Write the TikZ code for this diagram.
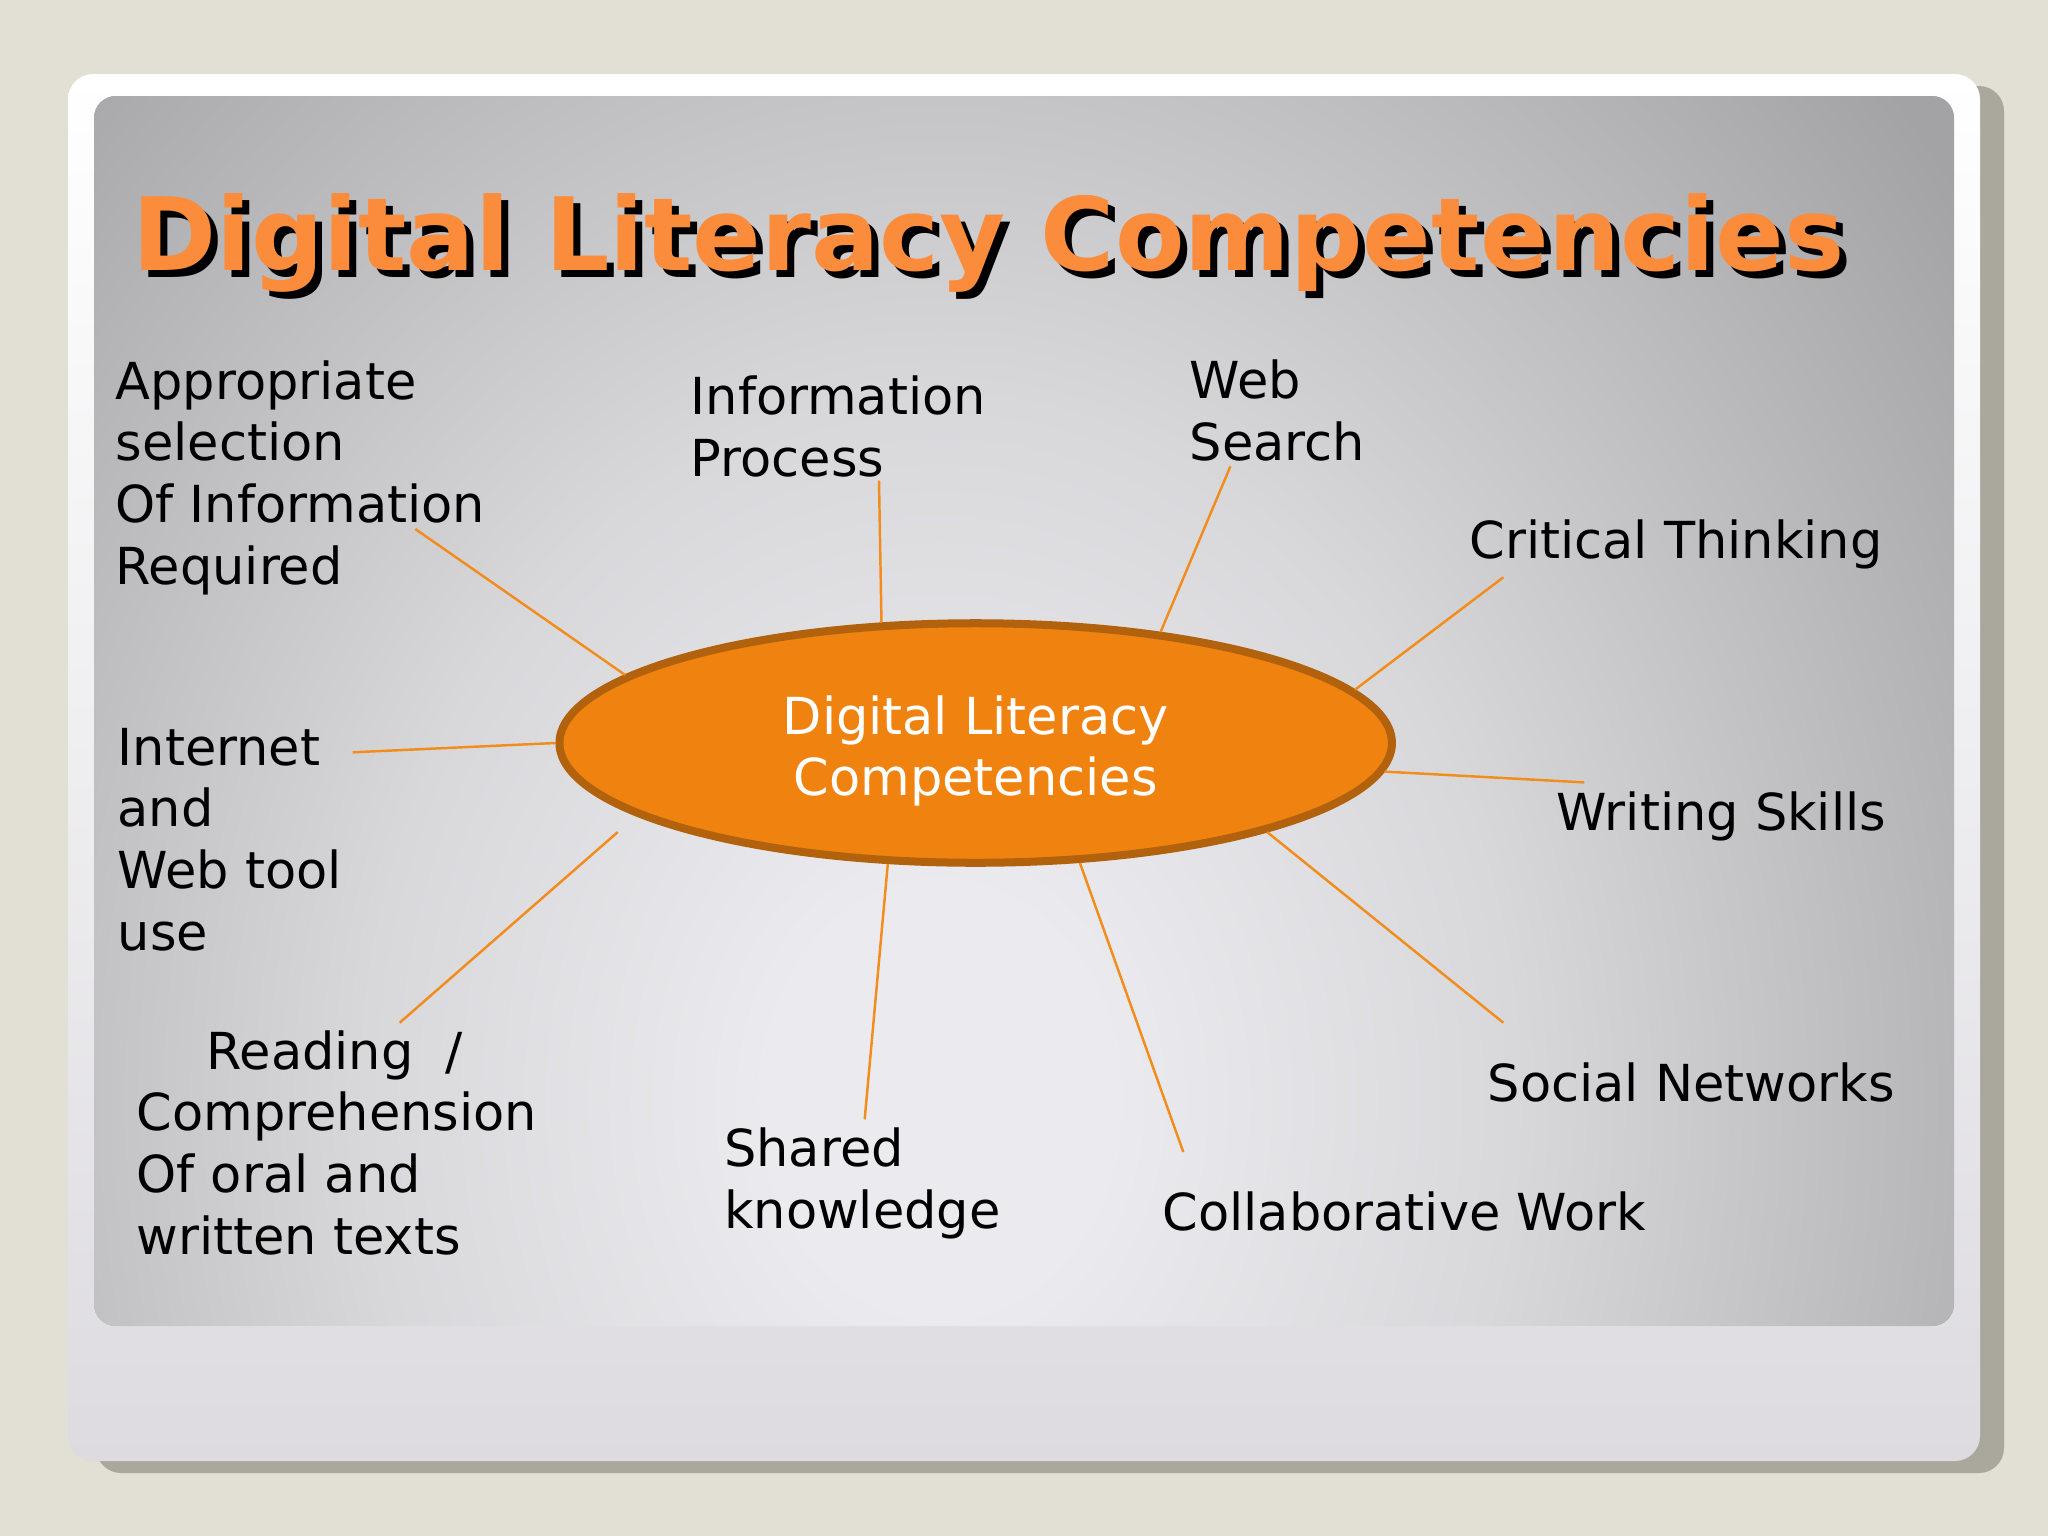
\documentclass[tikz,border=0pt]{standalone}
\usepackage{fontspec}
\setmainfont{DejaVu Sans}
\usetikzlibrary{shapes.geometric}
\definecolor{pagebg}{RGB}{226,223,212}
\definecolor{cardshadow}{RGB}{170,168,156}
\definecolor{cardbottom}{RGB}{221,219,224}
\definecolor{panelin}{RGB}{235,234,238}
\definecolor{panelmid}{RGB}{216,216,219}
\definecolor{panelmid2}{RGB}{185,185,188}
\definecolor{panelout}{RGB}{163,163,166}
\definecolor{titleorange}{RGB}{250,140,60}
\definecolor{corefill}{RGB}{240,130,15}
\definecolor{coreborder}{RGB}{178,98,12}
\definecolor{spoke}{RGB}{242,140,28}
\pgfdeclareradialshading{panelshade}{\pgfpoint{0bp}{0bp}}{color(0bp)=(panelin); color(2.5bp)=(panelin); color(8.33bp)=(panelmid); color(14.17bp)=(panelmid2); color(18.33bp)=(panelout); color(50bp)=(panelout)}
\begin{document}
\begin{tikzpicture}[x=0.01cm,y=-0.01cm,
  itemtext/.style={font=\fontsize{14.5pt}{17.5pt}\selectfont, text=black, align=left, inner sep=0pt, anchor=base west},
  titletext/.style={font=\fontsize{28.8pt}{34pt}\selectfont\bfseries, inner sep=0pt, anchor=base west, text=titleorange},
  spokeline/.style={draw=spoke, line width=0.7pt},
]
\useasboundingbox (0,0) rectangle (2048,1536);
\fill[pagebg] (0,0) rectangle (2048,1536);
\fill[cardshadow, rounded corners=0.25cm] (96,86) rectangle (2004,1473);
\shade[top color=white, bottom color=cardbottom, rounded corners=0.25cm] (68,74) rectangle (1980,1461);
\begin{scope}
  \clip[rounded corners=0.22cm] (94,96) rectangle (1954,1326);
  \fill[panelout] (94,96) rectangle (1954,1326);
  \shade[shading=panelshade] (940,1100) ellipse [x radius=1725, y radius=2100];
\end{scope}

% title with drop shadow
\newcommand{\titlewords}{Digital Literacy Competencies}
\node[titletext] (title) at (131.5,270)
  {\makebox[0pt][l]{\hspace*{1.99pt}\raisebox{-1.99pt}{\textcolor{black}{\titlewords}}}\titlewords};

% central ellipse
\node[ellipse, draw=coreborder, fill=corefill, line width=0.08cm,
      minimum width=8.32cm, minimum height=2.394cm, inner sep=0pt]
      (core) at (975.7,743) {};
\node[text=white, align=center, inner sep=0pt, font=\fontsize{14.5pt}{17.5pt}\selectfont]
      (coretext) at (975.7,751) {Digital Literacy\\Competencies};

% labels
\node[itemtext] (appr) at (115,584) {Appropriate\\selection\\Of Information\\Required};
\node[itemtext] (info) at (690,476) {Information\\Process};
\node[itemtext] (web) at (1189,460) {Web\\Search};
\node[itemtext] (crit) at (1469,558) {Critical Thinking};
\node[itemtext] (writ) at (1556,830) {Writing Skills};
\node[itemtext] (soc) at (1487,1101) {Social Networks};
\node[itemtext] (coll) at (1162,1230) {Collaborative Work};
\node[itemtext] (shar) at (723.5,1228) {Shared\\knowledge};
\node[itemtext] (read) at (136,1254) {\hspace*{0.697cm}Reading\ \ /\\Comprehension\\Of oral and\\written texts};
\node[itemtext] (inet) at (117,950) {Internet\\and\\Web tool\\use};

% spoke ends
\coordinate (s1) at (415.3,529);
\coordinate (s2) at (879,480.7);
\coordinate (s3) at (1230.4,466.3);
\coordinate (s4) at (1503.3,577.3);
\coordinate (s5) at (1584.3,782.4);
\coordinate (s6) at (1503.3,1022.7);
\coordinate (s7) at (1183.3,1152);
\coordinate (s8) at (864.7,1119.3);
\coordinate (s9) at (399.7,1022.7);
\coordinate (s9b) at (617.8,832);
\coordinate (s10) at (352.7,752.3);

\draw[spokeline] (s1) -- (core.169.3);
\draw[spokeline] (s2) -- (core.128.6);
\draw[spokeline] (s3) -- (core.31.7);
\draw[spokeline] (s4) -- (core.8.4);
\draw[spokeline] (s5) -- (core.356.6);
\draw[spokeline] (s6) -- (core.343.5);
\draw[spokeline] (s7) -- (core.311.1);
\draw[spokeline] (s8) -- (core.234.8);
\draw[spokeline] (s9) -- (s9b);
\draw[spokeline] (s10) -- (core.180.2);
\end{tikzpicture}
\end{document}
